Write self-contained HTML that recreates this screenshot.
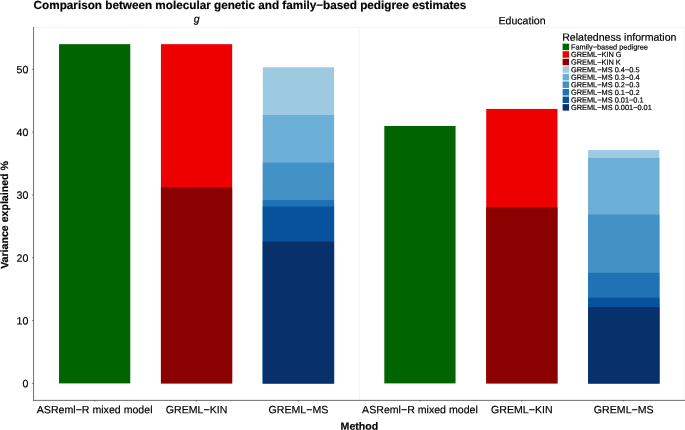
<!DOCTYPE html>
<html><head><meta charset="utf-8"><title>Comparison between molecular genetic and family-based pedigree estimates</title>
<style>
html,body{margin:0;padding:0;background:#fff;}
body{width:685px;height:430px;overflow:hidden;}
text{stroke:#000;stroke-width:0.18px;}
svg{display:block;text-rendering:geometricPrecision;font-family:"Liberation Sans",Arial,Helvetica,sans-serif;}
</style></head><body>
<svg width="685" height="430" viewBox="0 0 685 430">
<rect width="685" height="430" fill="#fff"/>

<g fill="none" stroke="#f4f4f4" stroke-width="1">
<line x1="33.5" y1="27.3" x2="685" y2="27.3"/>
<line x1="359.3" y1="27" x2="359.3" y2="400"/>
<line x1="683.8" y1="27" x2="683.8" y2="400"/>
</g>
<g>
<rect x="59.02" y="44.17" width="71.25" height="339.23" fill="#006400"/>
<rect x="160.92" y="44.17" width="71.25" height="339.23" fill="#EE0000"/>
<rect x="160.92" y="187.02" width="71.25" height="196.38" fill="#8B0000"/>
<rect x="262.81" y="67.23" width="71.25" height="316.17" fill="#9ECAE1"/>
<rect x="262.81" y="115.03" width="71.25" height="268.37" fill="#6BAED6"/>
<rect x="262.81" y="162.59" width="71.25" height="220.81" fill="#4292C6"/>
<rect x="262.81" y="199.97" width="71.25" height="183.43" fill="#2171B5"/>
<rect x="262.81" y="206.56" width="71.25" height="176.84" fill="#08519C"/>
<rect x="262.81" y="241.68" width="71.25" height="141.72" fill="#08306B"/>
<rect x="384.31" y="125.96" width="71.25" height="257.44" fill="#006400"/>
<rect x="486.22" y="108.94" width="71.25" height="274.46" fill="#EE0000"/>
<rect x="486.22" y="207.00" width="71.25" height="176.40" fill="#8B0000"/>
<rect x="588.12" y="150.09" width="71.25" height="233.31" fill="#9ECAE1"/>
<rect x="588.12" y="158.00" width="71.25" height="225.40" fill="#6BAED6"/>
<rect x="588.12" y="214.48" width="71.25" height="168.92" fill="#4292C6"/>
<rect x="588.12" y="272.84" width="71.25" height="110.56" fill="#2171B5"/>
<rect x="588.12" y="297.71" width="71.25" height="85.69" fill="#08519C"/>
<rect x="588.12" y="307.14" width="71.25" height="76.26" fill="#08306B"/>
</g>
<g stroke="#333" stroke-width="0.7" fill="none">
<line x1="33.55" y1="27" x2="33.55" y2="400.75"/>
<line x1="33.2" y1="400.4" x2="685" y2="400.4"/>
<line x1="32.2" y1="383.40" x2="33.55" y2="383.40"/>
<line x1="32.2" y1="320.58" x2="33.55" y2="320.58"/>
<line x1="32.2" y1="257.76" x2="33.55" y2="257.76"/>
<line x1="32.2" y1="194.94" x2="33.55" y2="194.94"/>
<line x1="32.2" y1="132.12" x2="33.55" y2="132.12"/>
<line x1="32.2" y1="69.30" x2="33.55" y2="69.30"/>
<line x1="94.64" y1="400.4" x2="94.64" y2="401.6"/>
<line x1="196.54" y1="400.4" x2="196.54" y2="401.6"/>
<line x1="298.44" y1="400.4" x2="298.44" y2="401.6"/>
<line x1="419.94" y1="400.4" x2="419.94" y2="401.6"/>
<line x1="521.84" y1="400.4" x2="521.84" y2="401.6"/>
<line x1="623.74" y1="400.4" x2="623.74" y2="401.6"/>
</g>
<g font-size="10.6" fill="#000" text-anchor="end">
<text transform="translate(28.4,387.30) rotate(0.03)">0</text>
<text transform="translate(28.4,324.48) rotate(0.03)">10</text>
<text transform="translate(28.4,261.66) rotate(0.03)">20</text>
<text transform="translate(28.4,198.84) rotate(0.03)">30</text>
<text transform="translate(28.4,136.02) rotate(0.03)">40</text>
<text transform="translate(28.4,73.20) rotate(0.03)">50</text>
</g>
<g font-size="10.6" fill="#000" text-anchor="middle">
<text transform="translate(94.64,413.3) rotate(0.03)">ASReml−R mixed model</text>
<text transform="translate(196.54,413.3) rotate(0.03)">GREML−KIN</text>
<text transform="translate(298.44,413.3) rotate(0.03)">GREML−MS</text>
<text transform="translate(419.94,413.3) rotate(0.03)">ASReml−R mixed model</text>
<text transform="translate(521.84,413.3) rotate(0.03)">GREML−KIN</text>
<text transform="translate(623.74,413.3) rotate(0.03)">GREML−MS</text>
</g>
<text transform="translate(33.6,8.6) rotate(0.02)" font-size="11.72" font-weight="bold" fill="#000">Comparison between molecular genetic and family−based pedigree estimates</text>
<text transform="translate(196.6,22.4) rotate(0.03)" font-size="10.6" font-style="italic" fill="#000" text-anchor="middle">g</text>
<text transform="translate(522,24.3) rotate(0.03)" font-size="10.6" fill="#000" text-anchor="middle">Education</text>
<text transform="translate(359.4,429.8) rotate(0.03)" font-size="10.6" font-weight="bold" fill="#000" text-anchor="middle">Method</text>
<text transform="translate(8.1,215) rotate(-90.03)" font-size="10.6" font-weight="bold" fill="#000" text-anchor="middle">Variance explained %</text>
<text transform="translate(562.2,40.8) rotate(0.03)" font-size="10.6" fill="#000">Relatedness information</text>
<g font-size="7.4" fill="#000">
<rect x="562.6" y="43.65" width="6.45" height="6.5" fill="#006400"/>
<text transform="translate(570.9,49.50) rotate(0.03)">Family−based pedigree</text>
<rect x="562.6" y="51.21" width="6.45" height="6.5" fill="#EE0000"/>
<text transform="translate(570.9,57.06) rotate(0.03)">GREML−KIN G</text>
<rect x="562.6" y="58.77" width="6.45" height="6.5" fill="#8B0000"/>
<text transform="translate(570.9,64.62) rotate(0.03)">GREML−KIN K</text>
<rect x="562.6" y="66.33" width="6.45" height="6.5" fill="#9ECAE1"/>
<text transform="translate(570.9,72.18) rotate(0.03)">GREML−MS 0.4−0.5</text>
<rect x="562.6" y="73.89" width="6.45" height="6.5" fill="#6BAED6"/>
<text transform="translate(570.9,79.74) rotate(0.03)">GREML−MS 0.3−0.4</text>
<rect x="562.6" y="81.45" width="6.45" height="6.5" fill="#4292C6"/>
<text transform="translate(570.9,87.30) rotate(0.03)">GREML−MS 0.2−0.3</text>
<rect x="562.6" y="89.01" width="6.45" height="6.5" fill="#2171B5"/>
<text transform="translate(570.9,94.86) rotate(0.03)">GREML−MS 0.1−0.2</text>
<rect x="562.6" y="96.57" width="6.45" height="6.5" fill="#08519C"/>
<text transform="translate(570.9,102.42) rotate(0.03)">GREML−MS 0.01−0.1</text>
<rect x="562.6" y="104.13" width="6.45" height="6.5" fill="#08306B"/>
<text transform="translate(570.9,109.98) rotate(0.03)">GREML−MS 0.001−0.01</text>
</g>
</svg>
</body></html>
